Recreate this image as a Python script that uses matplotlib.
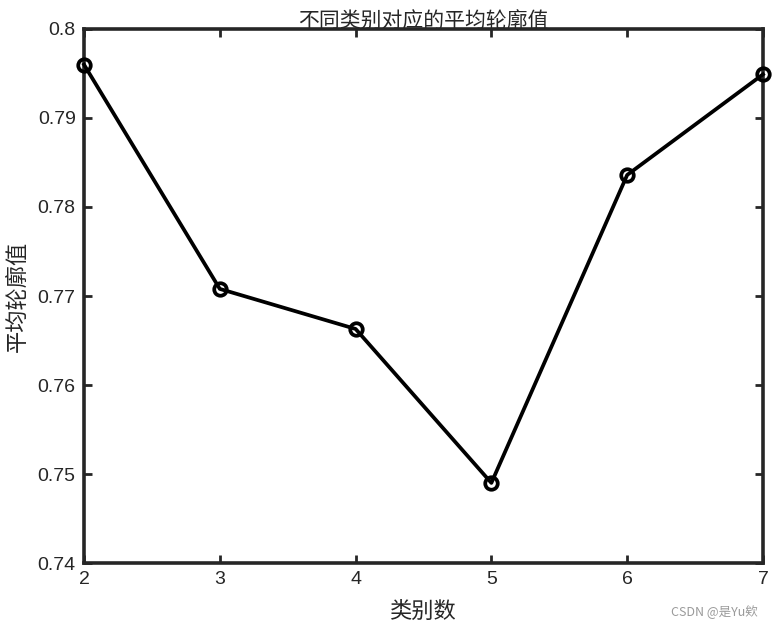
import matplotlib.pyplot as plt

plt.rcParams['font.family'] = ['Liberation Sans', 'Noto Sans CJK SC', 'DejaVu Sans']

# 数据
k_values = [2, 3, 4, 5, 6, 7]
silhouette = [0.7960, 0.7708, 0.7663, 0.7490, 0.7836, 0.7949]
y_ticks = [0.74, 0.75, 0.76, 0.77, 0.78, 0.79, 0.8]
y_tick_labels = ['0.74', '0.75', '0.76', '0.77', '0.78', '0.79', '0.8']


def main():
    fig = plt.figure(figsize=(7.72, 6.3), dpi=100)
    ax = fig.add_axes([0.1088, 0.1063, 0.8795, 0.8477])

    ax.plot(k_values, silhouette, color='black', linewidth=2.7,
            marker='o', markersize=9, markerfacecolor='none',
            markeredgewidth=2.7, clip_on=False, zorder=5)

    ax.set_xlim(2, 7)
    ax.set_ylim(0.74, 0.8)
    ax.set_xticks(k_values)
    ax.set_yticks(y_ticks)
    ax.set_yticklabels(y_tick_labels)

    for side in ax.spines.values():
        side.set_linewidth(2.6)
        side.set_color('#262626')
    ax.tick_params(direction='in', top=True, right=True, length=6, width=2,
                   color='#262626', labelsize=14, labelcolor='#262626', pad=6)

    cjk = ['Noto Sans CJK SC', 'DejaVu Sans']
    ax.set_title('不同类别对应的平均轮廓值', fontsize=15, family=cjk,
                 color='#262626', pad=1)
    ax.set_xlabel('类别数', fontsize=16, family=cjk, color='#262626', labelpad=8)
    ax.set_ylabel('平均轮廓值', fontsize=16, family=cjk, color='#262626', labelpad=6)

    fig.text(0.981, 0.028, 'CSDN @是Yu欸', fontsize=9, color='#9a9a9a',
             ha='right', va='center', family=cjk)

    fig.savefig('out.png', dpi=100)


if __name__ == "__main__":
    main()
